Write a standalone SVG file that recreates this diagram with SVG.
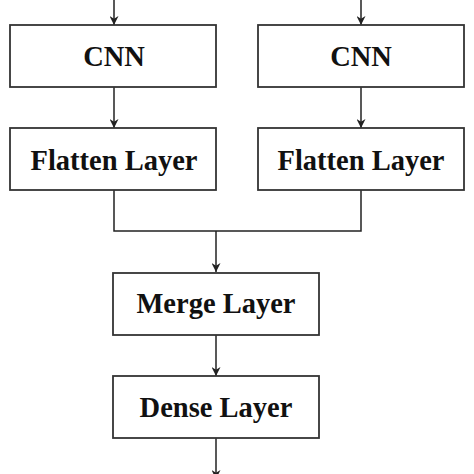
<svg xmlns="http://www.w3.org/2000/svg" width="474" height="474" viewBox="0 0 474 474">
<style>
.box{fill:#fff;stroke:#333;stroke-width:1.8}
.lbl{font-family:"Liberation Serif","Times New Roman",serif;font-weight:bold;font-size:28.5px;fill:#111;text-anchor:middle}
.con{fill:none;stroke:#222;stroke-width:1.5}
</style>
<defs>
<marker id="ah" viewBox="0 0 10 10" refX="10" refY="5" markerWidth="9" markerHeight="9" markerUnits="userSpaceOnUse" orient="auto">
<path d="M0,0 L10,5 L0,10 L3,5 Z" fill="#222"/>
</marker>
</defs>
<rect width="474" height="474" fill="#fff"/>
<g id="connectors">
<path class="con" d="M114,0 V25" marker-end="url(#ah)"/>
<path class="con" d="M361,0 V25" marker-end="url(#ah)"/>
<path class="con" d="M114,87 V128" marker-end="url(#ah)"/>
<path class="con" d="M361,87 V128" marker-end="url(#ah)"/>
<path class="con" d="M114,190 V231 H361 V190"/>
<path class="con" d="M216,231 V272" marker-end="url(#ah)"/>
<path class="con" d="M216,335 V376" marker-end="url(#ah)"/>
<path class="con" d="M216,438 V479" marker-end="url(#ah)"/>
</g>
<g id="cnn1"><rect class="box" x="10" y="25" width="206" height="62"/><text class="lbl" x="114" y="66">CNN</text></g>
<g id="cnn2"><rect class="box" x="258" y="25" width="206" height="62"/><text class="lbl" x="361" y="66">CNN</text></g>
<g id="flatten1"><rect class="box" x="10" y="128" width="206" height="62"/><text class="lbl" x="114" y="170">Flatten Layer</text></g>
<g id="flatten2"><rect class="box" x="258" y="128" width="206" height="62"/><text class="lbl" x="361" y="170">Flatten Layer</text></g>
<g id="merge"><rect class="box" x="113" y="273" width="206" height="62"/><text class="lbl" x="216" y="313">Merge Layer</text></g>
<g id="dense"><rect class="box" x="113" y="376" width="206" height="62"/><text class="lbl" x="216" y="417">Dense Layer</text></g>
</svg>
